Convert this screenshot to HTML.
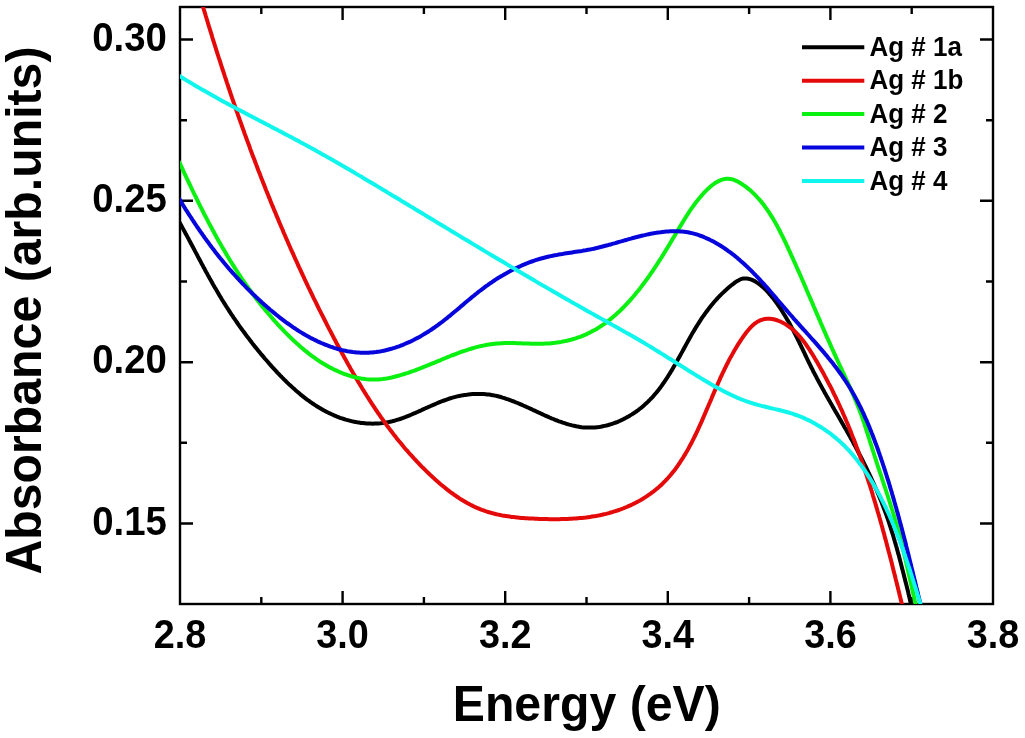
<!DOCTYPE html>
<html><head><meta charset="utf-8"><style>
html,body{margin:0;padding:0;background:#fff;}
svg{display:block;}
text{font-family:'Liberation Sans', Arial, sans-serif;font-weight:bold;fill:#000;}
</style></head><body>
<svg width="1025" height="738" viewBox="0 0 1025 738">
<rect width="1025" height="738" fill="#fff"/>
<rect x="180" y="7" width="813" height="597" fill="none" stroke="#000" stroke-width="2.4"/>
<path d="M261.3,604 v-7 M261.3,7 v7 M342.6,604 v-13 M342.6,7 v13 M423.9,604 v-7 M423.9,7 v7 M505.2,604 v-13 M505.2,7 v13 M586.5,604 v-7 M586.5,7 v7 M667.8,604 v-13 M667.8,7 v13 M749.1,604 v-7 M749.1,7 v7 M830.4,604 v-13 M830.4,7 v13 M911.7,604 v-7 M911.7,7 v7 M180,523.5 h13 M993,523.5 h-13 M180,442.8 h7 M993,442.8 h-7 M180,362.2 h13 M993,362.2 h-13 M180,281.5 h7 M993,281.5 h-7 M180,200.8 h13 M993,200.8 h-13 M180,120.2 h7 M993,120.2 h-7 M180,39.5 h13 M993,39.5 h-13" stroke="#000" stroke-width="2.4" fill="none"/>
<clipPath id="c"><rect x="180" y="7" width="813" height="597"/></clipPath>
<g clip-path="url(#c)" fill="none" stroke-width="4.00" stroke-linejoin="round" stroke-linecap="round">
<path stroke="#000000" d="M179.4,222.2 L180.4,224.0 L181.4,225.8 L182.4,227.6 L183.4,229.4 L184.4,231.2 L185.3,233.0 L186.3,234.8 L187.3,236.6 L188.3,238.4 L189.2,240.2 L190.2,242.0 L191.1,243.8 L192.1,245.5 L193.0,247.3 L194.0,249.1 L194.9,250.9 L195.8,252.6 L196.8,254.4 L197.7,256.2 L198.6,257.9 L199.6,259.7 L200.5,261.4 L201.4,263.2 L202.4,264.9 L203.3,266.7 L204.3,268.4 L205.2,270.2 L206.1,271.9 L207.1,273.6 L208.0,275.4 L209.0,277.1 L209.9,278.8 L210.9,280.5 L211.9,282.3 L212.8,284.0 L213.8,285.7 L214.8,287.4 L215.8,289.1 L216.8,290.8 L217.8,292.5 L218.8,294.2 L219.8,295.9 L220.8,297.6 L221.8,299.3 L222.9,301.0 L223.9,302.6 L225.0,304.3 L226.0,306.0 L227.1,307.7 L228.2,309.3 L229.2,311.0 L230.3,312.6 L231.4,314.3 L232.5,315.9 L233.6,317.6 L234.7,319.2 L235.9,320.9 L237.0,322.5 L238.1,324.1 L239.3,325.8 L240.4,327.4 L241.6,329.0 L242.8,330.6 L244.0,332.2 L245.2,333.8 L246.3,335.5 L247.5,337.0 L248.8,338.6 L250.0,340.2 L251.2,341.8 L252.4,343.4 L253.7,345.0 L254.9,346.6 L256.2,348.1 L257.5,349.7 L258.7,351.2 L260.0,352.8 L261.3,354.4 L262.6,355.9 L263.9,357.4 L265.2,359.0 L266.6,360.5 L267.9,362.0 L269.2,363.6 L270.6,365.1 L271.9,366.6 L273.3,368.1 L274.7,369.6 L276.1,371.1 L277.4,372.6 L278.9,374.1 L280.3,375.6 L281.7,377.0 L283.1,378.5 L284.5,379.9 L286.0,381.3 L287.5,382.8 L288.9,384.2 L290.4,385.5 L291.9,386.9 L293.4,388.3 L294.9,389.6 L296.4,391.0 L298.0,392.3 L299.5,393.6 L301.0,394.9 L302.6,396.1 L304.2,397.4 L305.8,398.6 L307.4,399.8 L309.0,400.9 L310.6,402.1 L312.2,403.2 L313.9,404.3 L315.5,405.4 L317.2,406.5 L318.9,407.5 L320.6,408.5 L322.3,409.5 L324.0,410.5 L325.8,411.4 L327.5,412.3 L329.3,413.2 L331.1,414.0 L332.8,414.8 L334.6,415.6 L336.5,416.4 L338.3,417.1 L340.1,417.8 L342.0,418.4 L343.8,419.0 L345.7,419.6 L347.6,420.1 L349.5,420.6 L351.4,421.1 L353.3,421.6 L355.2,421.9 L357.1,422.3 L359.0,422.6 L361.0,422.9 L362.9,423.1 L364.8,423.3 L366.8,423.5 L368.7,423.6 L370.7,423.6 L372.6,423.7 L374.6,423.6 L376.6,423.6 L378.5,423.4 L380.5,423.3 L382.4,423.1 L384.4,422.8 L386.3,422.5 L388.3,422.1 L390.3,421.7 L392.2,421.3 L394.2,420.8 L396.1,420.2 L398.0,419.6 L400.0,419.0 L401.9,418.3 L403.9,417.6 L405.8,416.9 L407.7,416.1 L409.7,415.3 L411.6,414.5 L413.5,413.7 L415.4,412.9 L417.4,412.0 L419.3,411.1 L421.2,410.3 L423.1,409.4 L425.0,408.5 L426.9,407.7 L428.8,406.8 L430.7,406.0 L432.7,405.1 L434.6,404.3 L436.5,403.5 L438.4,402.7 L440.3,401.9 L442.2,401.2 L444.1,400.5 L446.0,399.8 L447.9,399.1 L449.7,398.5 L451.6,397.9 L453.5,397.4 L455.4,396.9 L457.3,396.4 L459.2,396.0 L461.1,395.6 L463.0,395.3 L464.9,394.9 L466.8,394.7 L468.6,394.4 L470.5,394.2 L472.4,394.1 L474.3,394.0 L476.2,393.9 L478.1,393.9 L480.0,393.9 L481.8,393.9 L483.7,394.0 L485.6,394.2 L487.5,394.4 L489.4,394.6 L491.3,394.9 L493.1,395.2 L495.0,395.6 L496.9,396.0 L498.8,396.5 L500.7,397.0 L502.6,397.6 L504.4,398.1 L506.3,398.8 L508.2,399.4 L510.1,400.1 L512.0,400.8 L513.9,401.5 L515.8,402.3 L517.6,403.0 L519.5,403.8 L521.4,404.6 L523.3,405.5 L525.2,406.3 L527.0,407.2 L528.9,408.0 L530.8,408.9 L532.7,409.8 L534.6,410.6 L536.4,411.5 L538.3,412.4 L540.2,413.2 L542.1,414.1 L544.0,415.0 L545.8,415.8 L547.7,416.6 L549.6,417.5 L551.5,418.3 L553.3,419.0 L555.2,419.8 L557.1,420.5 L559.0,421.3 L560.9,421.9 L562.7,422.6 L564.6,423.2 L566.5,423.8 L568.4,424.4 L570.3,424.9 L572.2,425.4 L574.1,425.8 L576.0,426.2 L577.9,426.6 L579.8,426.9 L581.7,427.2 L583.6,427.4 L585.5,427.5 L587.4,427.6 L589.3,427.6 L591.2,427.6 L593.1,427.5 L595.0,427.4 L597.0,427.2 L598.9,427.0 L600.8,426.7 L602.7,426.3 L604.6,425.9 L606.5,425.5 L608.4,425.0 L610.3,424.4 L612.2,423.8 L614.0,423.2 L615.9,422.5 L617.7,421.8 L619.6,421.0 L621.4,420.2 L623.2,419.3 L625.0,418.4 L626.7,417.4 L628.5,416.5 L630.2,415.4 L631.9,414.4 L633.6,413.3 L635.3,412.1 L637.0,411.0 L638.6,409.8 L640.2,408.5 L641.8,407.3 L643.3,406.0 L644.8,404.6 L646.3,403.3 L647.8,401.9 L649.2,400.5 L650.6,399.0 L652.0,397.6 L653.4,396.1 L654.7,394.5 L656.0,393.0 L657.3,391.4 L658.5,389.9 L659.8,388.3 L661.0,386.6 L662.2,385.0 L663.3,383.3 L664.5,381.7 L665.6,380.0 L666.7,378.3 L667.9,376.6 L668.9,374.8 L670.0,373.1 L671.1,371.3 L672.2,369.6 L673.2,367.8 L674.2,366.0 L675.3,364.2 L676.3,362.4 L677.3,360.6 L678.3,358.8 L679.3,357.0 L680.3,355.2 L681.3,353.4 L682.3,351.6 L683.3,349.8 L684.2,348.0 L685.2,346.2 L686.2,344.4 L687.2,342.6 L688.2,340.8 L689.2,339.0 L690.2,337.2 L691.2,335.4 L692.2,333.6 L693.2,331.9 L694.3,330.1 L695.3,328.4 L696.4,326.7 L697.4,325.0 L698.5,323.3 L699.6,321.6 L700.7,319.9 L701.8,318.2 L702.9,316.6 L704.1,315.0 L705.2,313.4 L706.4,311.8 L707.6,310.2 L708.8,308.6 L710.0,307.1 L711.2,305.5 L712.5,304.0 L713.7,302.5 L715.0,301.0 L716.3,299.6 L717.6,298.1 L719.0,296.7 L720.3,295.3 L721.7,293.9 L723.1,292.6 L724.6,291.2 L726.0,289.9 L727.5,288.6 L729.0,287.3 L730.5,286.0 L732.0,284.8 L733.6,283.6 L735.1,282.4 L736.7,281.3 L738.4,280.4 L740.0,279.5 L741.6,278.9 L743.3,278.5 L744.9,278.4 L746.6,278.4 L748.2,278.7 L749.8,279.1 L751.5,279.7 L753.1,280.4 L754.7,281.1 L756.2,282.1 L757.8,283.1 L759.3,284.2 L760.9,285.4 L762.4,286.7 L763.9,288.0 L765.3,289.4 L766.8,290.9 L768.2,292.5 L769.6,294.1 L771.0,295.7 L772.4,297.4 L773.7,299.1 L775.0,300.9 L776.3,302.6 L777.6,304.4 L778.8,306.2 L780.0,307.9 L781.2,309.7 L782.3,311.5 L783.4,313.3 L784.5,315.0 L785.6,316.8 L786.6,318.6 L787.7,320.3 L788.7,322.1 L789.7,323.8 L790.7,325.6 L791.6,327.4 L792.6,329.1 L793.5,330.9 L794.4,332.7 L795.3,334.4 L796.2,336.2 L797.1,337.9 L797.9,339.7 L798.8,341.4 L799.6,343.2 L800.5,344.9 L801.3,346.7 L802.2,348.4 L803.0,350.2 L803.9,352.0 L804.7,353.7 L805.5,355.5 L806.4,357.2 L807.2,359.0 L808.0,360.7 L808.9,362.5 L809.8,364.2 L810.6,366.0 L811.5,367.7 L812.4,369.4 L813.2,371.2 L814.1,372.9 L815.1,374.7 L816.0,376.4 L816.9,378.2 L817.8,379.9 L818.8,381.7 L819.7,383.4 L820.7,385.2 L821.6,386.9 L822.6,388.7 L823.6,390.4 L824.5,392.2 L825.5,393.9 L826.5,395.7 L827.5,397.4 L828.5,399.2 L829.5,400.9 L830.5,402.7 L831.5,404.4 L832.5,406.2 L833.5,407.9 L834.5,409.7 L835.5,411.4 L836.6,413.2 L837.6,415.0 L838.6,416.7 L839.6,418.5 L840.6,420.2 L841.6,422.0 L842.6,423.8 L843.6,425.5 L844.6,427.3 L845.7,429.0 L846.7,430.8 L847.6,432.6 L848.6,434.3 L849.6,436.1 L850.6,437.9 L851.6,439.6 L852.6,441.4 L853.5,443.2 L854.5,445.0 L855.5,446.7 L856.4,448.5 L857.4,450.3 L858.3,452.1 L859.2,453.9 L860.2,455.6 L861.1,457.4 L862.0,459.2 L862.9,461.0 L863.8,462.8 L864.7,464.6 L865.6,466.4 L866.5,468.2 L867.3,470.0 L868.2,471.8 L869.1,473.6 L869.9,475.4 L870.8,477.2 L871.6,479.0 L872.4,480.8 L873.2,482.6 L874.0,484.4 L874.8,486.2 L875.6,488.0 L876.4,489.8 L877.2,491.7 L878.0,493.5 L878.7,495.3 L879.5,497.1 L880.2,499.0 L881.0,500.8 L881.7,502.6 L882.4,504.5 L883.1,506.3 L883.8,508.2 L884.5,510.0 L885.2,511.9 L885.9,513.7 L886.6,515.6 L887.2,517.4 L887.9,519.3 L888.5,521.1 L889.1,523.0 L889.7,524.9 L890.3,526.7 L890.9,528.6 L891.5,530.5 L892.1,532.4 L892.7,534.2 L893.3,536.1 L893.8,538.0 L894.4,539.9 L894.9,541.8 L895.5,543.7 L896.0,545.6 L896.6,547.5 L897.1,549.4 L897.6,551.3 L898.1,553.2 L898.7,555.1 L899.2,557.1 L899.7,559.0 L900.2,560.9 L900.7,562.8 L901.2,564.8 L901.7,566.7 L902.2,568.7 L902.7,570.6 L903.2,572.5 L903.7,574.5 L904.2,576.5 L904.7,578.4 L905.2,580.4 L905.7,582.4 L906.2,584.3 L906.7,586.3 L907.2,588.3 L907.7,590.3 L908.2,592.3 L908.6,594.2 L909.1,596.2 L909.6,598.2 L910.0,600.2 L910.5,602.3 L910.9,604.3 L911.3,606.3 L911.7,608.3 L912.1,610.3 L912.5,612.4"/>
<path stroke="#e50a0a" d="M199.6,-4.9 L200.2,-3.0 L200.7,-1.1 L201.3,0.8 L201.8,2.7 L202.4,4.7 L203.0,6.6 L203.5,8.5 L204.1,10.4 L204.7,12.3 L205.3,14.2 L205.8,16.1 L206.4,18.0 L207.0,19.9 L207.6,21.8 L208.1,23.7 L208.7,25.6 L209.3,27.5 L209.9,29.4 L210.5,31.3 L211.1,33.2 L211.7,35.1 L212.2,37.0 L212.8,38.9 L213.4,40.8 L214.0,42.7 L214.6,44.6 L215.2,46.5 L215.8,48.4 L216.4,50.3 L217.0,52.2 L217.6,54.1 L218.2,56.0 L218.8,57.9 L219.5,59.8 L220.1,61.7 L220.7,63.6 L221.3,65.5 L221.9,67.4 L222.5,69.3 L223.2,71.2 L223.8,73.1 L224.4,75.0 L225.0,76.9 L225.7,78.8 L226.3,80.7 L226.9,82.6 L227.6,84.5 L228.2,86.4 L228.8,88.3 L229.5,90.2 L230.1,92.0 L230.7,93.9 L231.4,95.8 L232.0,97.7 L232.7,99.6 L233.3,101.5 L234.0,103.4 L234.6,105.3 L235.3,107.2 L235.9,109.1 L236.6,111.0 L237.3,112.8 L237.9,114.7 L238.6,116.6 L239.2,118.5 L239.9,120.4 L240.6,122.3 L241.3,124.1 L241.9,126.0 L242.6,127.9 L243.3,129.8 L244.0,131.7 L244.6,133.6 L245.3,135.4 L246.0,137.3 L246.7,139.2 L247.4,141.1 L248.1,143.0 L248.8,144.8 L249.5,146.7 L250.1,148.6 L250.8,150.5 L251.5,152.3 L252.2,154.2 L252.9,156.1 L253.7,158.0 L254.4,159.8 L255.1,161.7 L255.8,163.6 L256.5,165.4 L257.2,167.3 L257.9,169.2 L258.6,171.0 L259.4,172.9 L260.1,174.8 L260.8,176.6 L261.5,178.5 L262.3,180.4 L263.0,182.2 L263.7,184.1 L264.5,185.9 L265.2,187.8 L265.9,189.7 L266.7,191.5 L267.4,193.4 L268.2,195.2 L268.9,197.1 L269.7,198.9 L270.4,200.8 L271.2,202.7 L271.9,204.5 L272.7,206.4 L273.5,208.2 L274.2,210.1 L275.0,211.9 L275.8,213.8 L276.5,215.6 L277.3,217.4 L278.1,219.3 L278.8,221.1 L279.6,223.0 L280.4,224.8 L281.2,226.7 L282.0,228.5 L282.8,230.3 L283.5,232.2 L284.3,234.0 L285.1,235.8 L285.9,237.7 L286.7,239.5 L287.5,241.3 L288.3,243.2 L289.1,245.0 L289.9,246.8 L290.7,248.7 L291.5,250.5 L292.4,252.3 L293.2,254.1 L294.0,256.0 L294.8,257.8 L295.6,259.6 L296.5,261.4 L297.3,263.2 L298.1,265.1 L298.9,266.9 L299.8,268.7 L300.6,270.5 L301.5,272.3 L302.3,274.1 L303.1,275.9 L304.0,277.7 L304.8,279.6 L305.7,281.4 L306.5,283.2 L307.4,285.0 L308.2,286.8 L309.1,288.6 L310.0,290.4 L310.8,292.2 L311.7,294.0 L312.6,295.8 L313.4,297.6 L314.3,299.4 L315.2,301.1 L316.1,302.9 L316.9,304.7 L317.8,306.5 L318.7,308.3 L319.6,310.1 L320.5,311.9 L321.4,313.7 L322.3,315.4 L323.2,317.2 L324.1,319.0 L325.0,320.8 L325.9,322.5 L326.8,324.3 L327.7,326.1 L328.6,327.9 L329.5,329.6 L330.5,331.4 L331.4,333.2 L332.3,334.9 L333.2,336.7 L334.1,338.5 L335.1,340.2 L336.0,342.0 L336.9,343.7 L337.9,345.5 L338.8,347.3 L339.8,349.0 L340.7,350.8 L341.7,352.5 L342.6,354.3 L343.6,356.0 L344.5,357.8 L345.5,359.5 L346.5,361.2 L347.4,363.0 L348.4,364.7 L349.4,366.4 L350.3,368.2 L351.3,369.9 L352.3,371.6 L353.3,373.4 L354.3,375.1 L355.3,376.8 L356.3,378.5 L357.3,380.2 L358.3,381.9 L359.3,383.6 L360.4,385.4 L361.4,387.1 L362.4,388.8 L363.5,390.4 L364.5,392.1 L365.6,393.8 L366.6,395.5 L367.7,397.2 L368.8,398.9 L369.8,400.5 L370.9,402.2 L372.0,403.9 L373.1,405.5 L374.2,407.2 L375.3,408.9 L376.4,410.5 L377.5,412.1 L378.6,413.8 L379.8,415.4 L380.9,417.1 L382.1,418.7 L383.2,420.3 L384.4,421.9 L385.5,423.5 L386.7,425.2 L387.9,426.8 L389.1,428.4 L390.3,430.0 L391.5,431.5 L392.7,433.1 L393.9,434.7 L395.2,436.3 L396.4,437.9 L397.6,439.4 L398.9,441.0 L400.2,442.5 L401.5,444.1 L402.7,445.6 L404.0,447.2 L405.3,448.7 L406.6,450.2 L408.0,451.7 L409.3,453.2 L410.6,454.7 L412.0,456.2 L413.4,457.7 L414.7,459.2 L416.1,460.7 L417.5,462.2 L418.9,463.6 L420.3,465.1 L421.7,466.6 L423.2,468.0 L424.6,469.4 L426.1,470.9 L427.5,472.3 L429.0,473.7 L430.5,475.1 L432.0,476.5 L433.5,477.9 L435.0,479.3 L436.6,480.7 L438.1,482.0 L439.7,483.4 L441.2,484.7 L442.8,486.0 L444.4,487.3 L446.0,488.6 L447.6,489.9 L449.2,491.1 L450.8,492.3 L452.5,493.5 L454.1,494.7 L455.8,495.8 L457.5,497.0 L459.1,498.1 L460.8,499.2 L462.5,500.2 L464.2,501.2 L465.9,502.2 L467.6,503.2 L469.4,504.1 L471.1,505.1 L472.9,505.9 L474.6,506.8 L476.4,507.6 L478.2,508.3 L480.0,509.1 L481.8,509.8 L483.6,510.4 L485.4,511.1 L487.2,511.7 L489.0,512.2 L490.8,512.8 L492.7,513.3 L494.5,513.7 L496.4,514.2 L498.3,514.6 L500.1,515.0 L502.0,515.4 L503.9,515.7 L505.8,516.0 L507.7,516.3 L509.6,516.6 L511.5,516.9 L513.5,517.1 L515.4,517.3 L517.3,517.5 L519.3,517.7 L521.2,517.9 L523.2,518.0 L525.2,518.2 L527.1,518.3 L529.1,518.4 L531.1,518.5 L533.1,518.6 L535.1,518.7 L537.1,518.8 L539.1,518.9 L541.1,519.0 L543.2,519.0 L545.2,519.1 L547.2,519.1 L549.3,519.2 L551.3,519.2 L553.3,519.2 L555.4,519.2 L557.4,519.2 L559.5,519.2 L561.5,519.1 L563.6,519.1 L565.6,519.0 L567.7,518.9 L569.7,518.8 L571.8,518.7 L573.8,518.6 L575.8,518.5 L577.9,518.3 L579.9,518.1 L581.9,517.9 L584.0,517.7 L586.0,517.5 L588.0,517.2 L590.0,516.9 L592.0,516.6 L594.0,516.3 L596.0,516.0 L598.0,515.6 L600.0,515.2 L602.0,514.8 L604.0,514.3 L605.9,513.9 L607.9,513.4 L609.8,512.8 L611.7,512.3 L613.6,511.7 L615.5,511.1 L617.4,510.5 L619.3,509.8 L621.2,509.2 L623.0,508.5 L624.9,507.7 L626.7,507.0 L628.5,506.2 L630.3,505.4 L632.1,504.5 L633.9,503.7 L635.6,502.8 L637.4,501.9 L639.1,500.9 L640.8,500.0 L642.5,499.0 L644.2,497.9 L645.8,496.9 L647.4,495.8 L649.0,494.7 L650.6,493.6 L652.2,492.4 L653.8,491.3 L655.3,490.0 L656.8,488.8 L658.3,487.6 L659.7,486.3 L661.2,485.0 L662.6,483.6 L664.0,482.2 L665.3,480.9 L666.7,479.4 L668.0,478.0 L669.3,476.5 L670.6,475.0 L671.8,473.5 L673.0,472.0 L674.3,470.4 L675.5,468.9 L676.6,467.3 L677.8,465.7 L678.9,464.0 L680.0,462.4 L681.1,460.7 L682.2,459.0 L683.3,457.3 L684.3,455.6 L685.4,453.9 L686.4,452.1 L687.4,450.4 L688.4,448.6 L689.3,446.8 L690.3,445.1 L691.3,443.3 L692.2,441.4 L693.1,439.6 L694.0,437.8 L694.9,436.0 L695.8,434.1 L696.7,432.3 L697.6,430.4 L698.4,428.6 L699.3,426.7 L700.1,424.8 L701.0,423.0 L701.8,421.1 L702.6,419.2 L703.4,417.4 L704.2,415.5 L705.0,413.6 L705.8,411.8 L706.6,409.9 L707.4,408.0 L708.2,406.2 L709.0,404.3 L709.8,402.5 L710.6,400.6 L711.4,398.8 L712.1,396.9 L712.9,395.1 L713.7,393.2 L714.5,391.4 L715.3,389.6 L716.1,387.7 L716.9,385.9 L717.7,384.1 L718.5,382.3 L719.3,380.5 L720.1,378.6 L720.9,376.8 L721.8,375.0 L722.6,373.2 L723.5,371.4 L724.3,369.6 L725.2,367.8 L726.1,366.0 L727.0,364.2 L727.9,362.5 L728.8,360.7 L729.7,358.9 L730.7,357.1 L731.7,355.4 L732.7,353.6 L733.7,351.8 L734.7,350.1 L735.7,348.3 L736.8,346.6 L737.8,344.8 L738.9,343.1 L740.1,341.3 L741.2,339.6 L742.4,337.9 L743.6,336.1 L744.8,334.5 L746.0,332.8 L747.3,331.2 L748.6,329.7 L749.9,328.2 L751.2,326.8 L752.6,325.4 L754.0,324.2 L755.5,323.1 L757.0,322.0 L758.5,321.2 L760.1,320.4 L761.7,319.8 L763.3,319.3 L765.0,319.0 L766.7,318.8 L768.4,318.7 L770.1,318.8 L771.9,319.0 L773.6,319.3 L775.4,319.8 L777.2,320.3 L778.9,321.0 L780.7,321.7 L782.4,322.5 L784.1,323.4 L785.8,324.4 L787.4,325.5 L789.0,326.6 L790.6,327.8 L792.1,329.0 L793.6,330.3 L795.1,331.7 L796.5,333.1 L797.9,334.6 L799.3,336.1 L800.6,337.6 L801.9,339.2 L803.2,340.8 L804.5,342.4 L805.7,344.1 L806.9,345.8 L808.1,347.6 L809.3,349.3 L810.4,351.1 L811.5,352.9 L812.7,354.7 L813.8,356.5 L814.8,358.3 L815.9,360.1 L817.0,361.9 L818.0,363.7 L819.0,365.5 L820.1,367.4 L821.1,369.2 L822.1,371.0 L823.1,372.8 L824.1,374.6 L825.0,376.4 L826.0,378.2 L826.9,380.0 L827.9,381.8 L828.8,383.6 L829.7,385.3 L830.7,387.1 L831.6,388.9 L832.5,390.7 L833.3,392.5 L834.2,394.3 L835.1,396.1 L836.0,397.9 L836.8,399.7 L837.6,401.5 L838.5,403.2 L839.3,405.0 L840.1,406.8 L840.9,408.6 L841.8,410.4 L842.6,412.2 L843.3,414.0 L844.1,415.8 L844.9,417.6 L845.7,419.4 L846.4,421.2 L847.2,423.0 L848.0,424.8 L848.7,426.6 L849.4,428.4 L850.2,430.2 L850.9,432.0 L851.6,433.9 L852.3,435.7 L853.0,437.5 L853.8,439.3 L854.5,441.2 L855.2,443.0 L855.8,444.8 L856.5,446.7 L857.2,448.5 L857.9,450.4 L858.6,452.2 L859.2,454.1 L859.9,455.9 L860.6,457.8 L861.2,459.7 L861.9,461.6 L862.5,463.4 L863.2,465.3 L863.8,467.2 L864.5,469.1 L865.1,471.0 L865.7,472.9 L866.4,474.8 L867.0,476.7 L867.6,478.6 L868.2,480.5 L868.8,482.4 L869.5,484.3 L870.1,486.2 L870.7,488.1 L871.3,490.0 L871.9,491.9 L872.5,493.9 L873.0,495.8 L873.6,497.7 L874.2,499.6 L874.8,501.6 L875.4,503.5 L875.9,505.4 L876.5,507.4 L877.1,509.3 L877.6,511.2 L878.2,513.2 L878.8,515.1 L879.3,517.0 L879.9,519.0 L880.4,520.9 L881.0,522.9 L881.5,524.8 L882.1,526.8 L882.6,528.7 L883.1,530.6 L883.7,532.6 L884.2,534.5 L884.7,536.5 L885.2,538.4 L885.8,540.4 L886.3,542.3 L886.8,544.3 L887.3,546.2 L887.8,548.2 L888.3,550.1 L888.8,552.0 L889.4,554.0 L889.9,555.9 L890.4,557.9 L890.9,559.8 L891.4,561.8 L891.9,563.7 L892.3,565.6 L892.8,567.6 L893.3,569.5 L893.8,571.5 L894.3,573.4 L894.8,575.3 L895.3,577.3 L895.7,579.2 L896.2,581.1 L896.7,583.0 L897.2,585.0 L897.7,586.9 L898.1,588.8 L898.6,590.7 L899.1,592.6 L899.5,594.6 L900.0,596.5 L900.5,598.4 L900.9,600.3 L901.4,602.2 L901.9,604.1 L902.3,606.0 L902.8,607.9 L903.2,609.8 L903.7,611.7"/>
<path stroke="#0af010" d="M179.3,162.3 L180.2,164.1 L181.0,165.9 L181.8,167.7 L182.7,169.5 L183.5,171.4 L184.4,173.2 L185.2,175.0 L186.1,176.8 L186.9,178.6 L187.8,180.4 L188.6,182.2 L189.5,184.0 L190.4,185.8 L191.2,187.6 L192.1,189.5 L193.0,191.3 L193.8,193.1 L194.7,194.9 L195.6,196.7 L196.5,198.5 L197.3,200.3 L198.2,202.0 L199.1,203.8 L200.0,205.6 L200.9,207.4 L201.8,209.2 L202.7,211.0 L203.6,212.8 L204.5,214.6 L205.4,216.3 L206.4,218.1 L207.3,219.9 L208.2,221.7 L209.1,223.4 L210.1,225.2 L211.0,226.9 L212.0,228.7 L212.9,230.5 L213.9,232.2 L214.8,234.0 L215.8,235.7 L216.7,237.5 L217.7,239.2 L218.7,241.0 L219.7,242.7 L220.7,244.4 L221.7,246.2 L222.7,247.9 L223.7,249.6 L224.7,251.3 L225.7,253.0 L226.7,254.7 L227.7,256.5 L228.8,258.2 L229.8,259.9 L230.8,261.6 L231.9,263.2 L232.9,264.9 L234.0,266.6 L235.1,268.3 L236.2,270.0 L237.2,271.6 L238.3,273.3 L239.4,275.0 L240.5,276.6 L241.6,278.3 L242.7,279.9 L243.9,281.6 L245.0,283.2 L246.1,284.8 L247.3,286.5 L248.4,288.1 L249.6,289.7 L250.8,291.3 L251.9,292.9 L253.1,294.5 L254.3,296.1 L255.5,297.7 L256.7,299.3 L257.9,300.9 L259.2,302.4 L260.4,304.0 L261.6,305.6 L262.9,307.1 L264.2,308.7 L265.4,310.2 L266.7,311.8 L268.0,313.3 L269.3,314.8 L270.6,316.3 L271.9,317.8 L273.2,319.4 L274.5,320.9 L275.9,322.3 L277.2,323.8 L278.6,325.3 L280.0,326.8 L281.3,328.2 L282.7,329.7 L284.1,331.2 L285.5,332.6 L287.0,334.0 L288.4,335.5 L289.8,336.9 L291.3,338.3 L292.7,339.7 L294.2,341.1 L295.7,342.4 L297.2,343.8 L298.7,345.1 L300.2,346.5 L301.7,347.8 L303.3,349.1 L304.8,350.4 L306.4,351.6 L308.0,352.9 L309.5,354.1 L311.1,355.3 L312.7,356.5 L314.4,357.7 L316.0,358.8 L317.6,360.0 L319.3,361.1 L321.0,362.2 L322.7,363.2 L324.4,364.2 L326.1,365.2 L327.8,366.2 L329.5,367.2 L331.3,368.1 L333.0,369.0 L334.8,369.9 L336.6,370.7 L338.4,371.5 L340.2,372.3 L342.0,373.0 L343.9,373.8 L345.7,374.4 L347.6,375.1 L349.5,375.7 L351.4,376.3 L353.3,376.8 L355.2,377.3 L357.1,377.7 L359.1,378.1 L361.0,378.5 L363.0,378.8 L364.9,379.1 L366.9,379.3 L368.8,379.4 L370.8,379.6 L372.8,379.6 L374.7,379.6 L376.7,379.6 L378.7,379.5 L380.7,379.3 L382.7,379.1 L384.6,378.8 L386.6,378.5 L388.6,378.1 L390.6,377.7 L392.5,377.3 L394.5,376.8 L396.4,376.3 L398.4,375.8 L400.3,375.2 L402.3,374.6 L404.2,374.0 L406.1,373.4 L408.1,372.8 L410.0,372.1 L411.9,371.4 L413.8,370.8 L415.7,370.1 L417.6,369.3 L419.5,368.6 L421.4,367.9 L423.2,367.1 L425.1,366.4 L427.0,365.6 L428.9,364.9 L430.7,364.1 L432.6,363.3 L434.5,362.6 L436.3,361.8 L438.2,361.0 L440.1,360.3 L441.9,359.5 L443.8,358.7 L445.6,358.0 L447.5,357.2 L449.3,356.5 L451.2,355.7 L453.1,355.0 L454.9,354.3 L456.8,353.6 L458.7,352.9 L460.5,352.2 L462.4,351.5 L464.3,350.9 L466.2,350.3 L468.0,349.7 L469.9,349.1 L471.8,348.5 L473.7,347.9 L475.6,347.4 L477.5,346.9 L479.4,346.4 L481.3,346.0 L483.2,345.6 L485.1,345.2 L487.1,344.8 L489.0,344.5 L490.9,344.2 L492.9,343.9 L494.8,343.7 L496.8,343.5 L498.8,343.4 L500.7,343.2 L502.7,343.2 L504.7,343.1 L506.7,343.1 L508.7,343.1 L510.7,343.1 L512.7,343.1 L514.7,343.1 L516.8,343.2 L518.8,343.3 L520.8,343.3 L522.8,343.4 L524.9,343.5 L526.9,343.6 L528.9,343.6 L531.0,343.7 L533.0,343.8 L535.0,343.8 L537.0,343.8 L539.1,343.8 L541.1,343.8 L543.1,343.7 L545.1,343.6 L547.1,343.5 L549.1,343.4 L551.1,343.2 L553.1,343.0 L555.1,342.8 L557.1,342.5 L559.0,342.2 L561.0,341.9 L562.9,341.5 L564.9,341.1 L566.8,340.7 L568.8,340.2 L570.7,339.8 L572.6,339.2 L574.5,338.7 L576.3,338.1 L578.2,337.4 L580.1,336.8 L581.9,336.1 L583.7,335.3 L585.5,334.6 L587.3,333.8 L589.1,332.9 L590.9,332.0 L592.6,331.1 L594.3,330.2 L596.1,329.2 L597.8,328.2 L599.4,327.1 L601.1,326.0 L602.8,324.9 L604.4,323.8 L606.0,322.6 L607.6,321.4 L609.2,320.2 L610.8,318.9 L612.3,317.6 L613.9,316.3 L615.4,315.0 L616.9,313.6 L618.4,312.3 L619.9,310.9 L621.3,309.5 L622.8,308.0 L624.2,306.6 L625.6,305.1 L627.0,303.6 L628.4,302.1 L629.8,300.6 L631.1,299.1 L632.5,297.5 L633.8,296.0 L635.1,294.4 L636.4,292.8 L637.7,291.3 L639.0,289.7 L640.2,288.1 L641.5,286.4 L642.7,284.8 L643.9,283.2 L645.1,281.6 L646.3,280.0 L647.5,278.3 L648.7,276.7 L649.8,275.1 L650.9,273.4 L652.1,271.8 L653.2,270.2 L654.3,268.5 L655.3,266.9 L656.4,265.3 L657.5,263.7 L658.5,262.0 L659.5,260.4 L660.6,258.8 L661.6,257.2 L662.6,255.6 L663.6,254.0 L664.6,252.4 L665.6,250.8 L666.6,249.1 L667.6,247.5 L668.5,245.9 L669.5,244.2 L670.5,242.6 L671.5,240.9 L672.5,239.3 L673.5,237.6 L674.5,235.9 L675.5,234.2 L676.5,232.5 L677.5,230.8 L678.6,229.1 L679.6,227.3 L680.7,225.6 L681.7,223.8 L682.8,222.1 L683.9,220.3 L685.0,218.5 L686.1,216.7 L687.2,215.0 L688.4,213.2 L689.5,211.4 L690.7,209.7 L691.9,207.9 L693.2,206.2 L694.4,204.5 L695.7,202.7 L697.0,201.1 L698.3,199.4 L699.7,197.7 L701.1,196.1 L702.5,194.5 L703.9,192.9 L705.4,191.4 L706.9,189.9 L708.4,188.4 L710.0,187.0 L711.5,185.7 L713.1,184.5 L714.7,183.3 L716.4,182.3 L718.0,181.4 L719.7,180.6 L721.4,179.9 L723.0,179.4 L724.7,179.0 L726.5,178.8 L728.2,178.8 L729.9,178.9 L731.6,179.2 L733.3,179.7 L735.1,180.4 L736.8,181.1 L738.5,182.0 L740.1,182.9 L741.8,184.0 L743.4,185.1 L745.0,186.2 L746.6,187.4 L748.1,188.6 L749.6,189.8 L751.1,191.1 L752.5,192.4 L753.9,193.8 L755.3,195.1 L756.6,196.5 L757.9,198.0 L759.2,199.4 L760.5,200.9 L761.8,202.4 L763.0,203.9 L764.2,205.5 L765.3,207.1 L766.5,208.7 L767.6,210.3 L768.7,211.9 L769.8,213.6 L770.9,215.3 L771.9,216.9 L773.0,218.6 L774.0,220.4 L775.0,222.1 L776.0,223.9 L777.0,225.6 L777.9,227.4 L778.9,229.2 L779.8,231.0 L780.7,232.8 L781.6,234.6 L782.5,236.4 L783.4,238.2 L784.3,240.1 L785.2,241.9 L786.1,243.7 L786.9,245.6 L787.8,247.4 L788.6,249.3 L789.5,251.1 L790.3,252.9 L791.1,254.8 L792.0,256.6 L792.8,258.5 L793.6,260.3 L794.5,262.1 L795.3,264.0 L796.1,265.8 L796.9,267.7 L797.7,269.5 L798.6,271.3 L799.4,273.2 L800.2,275.0 L801.0,276.8 L801.8,278.7 L802.6,280.5 L803.4,282.3 L804.2,284.2 L805.0,286.0 L805.8,287.9 L806.5,289.7 L807.3,291.5 L808.1,293.4 L808.9,295.2 L809.7,297.0 L810.5,298.9 L811.3,300.7 L812.1,302.5 L812.9,304.4 L813.6,306.2 L814.4,308.0 L815.2,309.9 L816.0,311.7 L816.8,313.6 L817.6,315.4 L818.4,317.2 L819.2,319.1 L820.0,320.9 L820.7,322.7 L821.5,324.6 L822.3,326.4 L823.1,328.2 L823.9,330.1 L824.7,331.9 L825.5,333.7 L826.3,335.6 L827.1,337.4 L828.0,339.3 L828.8,341.1 L829.6,342.9 L830.4,344.8 L831.2,346.6 L832.0,348.4 L832.9,350.3 L833.7,352.1 L834.5,354.0 L835.4,355.8 L836.2,357.6 L837.1,359.5 L837.9,361.3 L838.8,363.2 L839.6,365.0 L840.5,366.9 L841.3,368.7 L842.2,370.5 L843.0,372.4 L843.9,374.2 L844.8,376.1 L845.6,377.9 L846.5,379.8 L847.3,381.6 L848.2,383.5 L849.0,385.3 L849.8,387.1 L850.7,389.0 L851.5,390.8 L852.3,392.7 L853.1,394.5 L853.9,396.4 L854.7,398.2 L855.5,400.1 L856.2,401.9 L857.0,403.8 L857.7,405.7 L858.5,407.5 L859.2,409.4 L859.9,411.2 L860.6,413.1 L861.3,414.9 L861.9,416.8 L862.6,418.6 L863.2,420.5 L863.9,422.4 L864.5,424.2 L865.1,426.1 L865.7,427.9 L866.3,429.8 L866.9,431.7 L867.5,433.5 L868.1,435.4 L868.7,437.3 L869.3,439.1 L869.8,441.0 L870.4,442.9 L871.0,444.7 L871.6,446.6 L872.2,448.5 L872.8,450.4 L873.4,452.2 L874.0,454.1 L874.6,456.0 L875.2,457.9 L875.8,459.7 L876.4,461.6 L877.0,463.5 L877.6,465.4 L878.2,467.3 L878.9,469.2 L879.5,471.0 L880.1,472.9 L880.8,474.8 L881.4,476.7 L882.0,478.6 L882.6,480.5 L883.3,482.4 L883.9,484.3 L884.5,486.2 L885.2,488.1 L885.8,490.0 L886.4,491.9 L887.0,493.7 L887.7,495.6 L888.3,497.6 L888.9,499.5 L889.5,501.4 L890.1,503.3 L890.7,505.2 L891.3,507.1 L891.9,509.0 L892.5,510.9 L893.1,512.8 L893.6,514.7 L894.2,516.6 L894.8,518.6 L895.3,520.5 L895.9,522.4 L896.4,524.3 L897.0,526.2 L897.5,528.2 L898.0,530.1 L898.6,532.0 L899.1,533.9 L899.6,535.9 L900.1,537.8 L900.6,539.7 L901.1,541.7 L901.6,543.6 L902.1,545.5 L902.5,547.5 L903.0,549.4 L903.5,551.4 L904.0,553.3 L904.4,555.3 L904.9,557.2 L905.4,559.2 L905.8,561.1 L906.3,563.1 L906.7,565.0 L907.2,567.0 L907.6,568.9 L908.1,570.9 L908.5,572.9 L909.0,574.8 L909.4,576.8 L909.9,578.8 L910.3,580.7 L910.8,582.7 L911.2,584.7 L911.7,586.6 L912.1,588.6 L912.5,590.6 L913.0,592.6 L913.4,594.6 L913.9,596.5 L914.4,598.5 L914.8,600.5 L915.3,602.5 L915.7,604.5 L916.2,606.5 L916.7,608.5 L917.1,610.5 L917.6,612.5"/>
<path stroke="#0505dc" d="M179.2,198.8 L180.3,200.6 L181.4,202.5 L182.5,204.2 L183.6,206.0 L184.7,207.8 L185.8,209.6 L187.0,211.3 L188.1,213.1 L189.2,214.8 L190.3,216.5 L191.4,218.2 L192.5,219.9 L193.7,221.6 L194.8,223.3 L195.9,225.0 L197.0,226.7 L198.2,228.3 L199.3,230.0 L200.4,231.6 L201.6,233.2 L202.7,234.9 L203.9,236.5 L205.0,238.1 L206.2,239.7 L207.3,241.3 L208.5,242.8 L209.6,244.4 L210.8,246.0 L212.0,247.6 L213.1,249.1 L214.3,250.6 L215.5,252.2 L216.7,253.7 L217.9,255.2 L219.1,256.8 L220.3,258.3 L221.6,259.8 L222.8,261.3 L224.0,262.8 L225.3,264.3 L226.5,265.7 L227.8,267.2 L229.0,268.7 L230.3,270.2 L231.6,271.6 L232.9,273.1 L234.2,274.5 L235.5,276.0 L236.8,277.4 L238.1,278.8 L239.4,280.3 L240.8,281.7 L242.1,283.1 L243.5,284.5 L244.9,286.0 L246.2,287.4 L247.6,288.8 L249.0,290.2 L250.5,291.6 L251.9,293.0 L253.3,294.4 L254.8,295.8 L256.2,297.1 L257.7,298.5 L259.2,299.9 L260.7,301.3 L262.2,302.7 L263.7,304.0 L265.3,305.4 L266.8,306.8 L268.3,308.1 L269.9,309.5 L271.5,310.8 L273.1,312.1 L274.7,313.4 L276.3,314.7 L277.9,316.0 L279.5,317.3 L281.2,318.6 L282.8,319.8 L284.5,321.1 L286.1,322.3 L287.8,323.5 L289.5,324.7 L291.2,325.9 L292.9,327.1 L294.6,328.2 L296.3,329.4 L298.0,330.5 L299.8,331.6 L301.5,332.6 L303.3,333.7 L305.0,334.7 L306.8,335.7 L308.6,336.7 L310.3,337.7 L312.1,338.6 L313.9,339.5 L315.7,340.4 L317.5,341.3 L319.3,342.1 L321.2,343.0 L323.0,343.7 L324.8,344.5 L326.7,345.2 L328.5,345.9 L330.4,346.6 L332.2,347.2 L334.1,347.9 L335.9,348.4 L337.8,349.0 L339.7,349.5 L341.6,350.0 L343.4,350.4 L345.3,350.8 L347.2,351.2 L349.1,351.5 L351.0,351.8 L352.9,352.1 L354.8,352.3 L356.7,352.5 L358.7,352.6 L360.6,352.7 L362.5,352.8 L364.4,352.8 L366.3,352.8 L368.3,352.8 L370.2,352.6 L372.1,352.5 L374.1,352.3 L376.0,352.1 L377.9,351.8 L379.9,351.5 L381.8,351.1 L383.7,350.7 L385.7,350.3 L387.6,349.8 L389.5,349.3 L391.4,348.8 L393.4,348.2 L395.3,347.6 L397.2,346.9 L399.1,346.3 L401.0,345.5 L402.9,344.8 L404.7,344.0 L406.6,343.2 L408.5,342.4 L410.3,341.6 L412.2,340.7 L414.0,339.8 L415.8,338.8 L417.6,337.9 L419.4,336.9 L421.2,335.9 L422.9,334.9 L424.7,333.8 L426.4,332.8 L428.1,331.7 L429.8,330.6 L431.5,329.5 L433.2,328.3 L434.9,327.2 L436.5,326.0 L438.1,324.9 L439.7,323.7 L441.3,322.5 L442.9,321.3 L444.5,320.0 L446.0,318.8 L447.6,317.6 L449.1,316.3 L450.7,315.1 L452.2,313.8 L453.7,312.5 L455.2,311.3 L456.8,310.0 L458.3,308.7 L459.8,307.4 L461.3,306.1 L462.8,304.9 L464.3,303.6 L465.8,302.3 L467.4,301.0 L468.9,299.8 L470.4,298.5 L471.9,297.2 L473.5,296.0 L475.0,294.7 L476.6,293.5 L478.1,292.2 L479.7,291.0 L481.3,289.8 L482.9,288.6 L484.5,287.4 L486.1,286.2 L487.7,285.1 L489.3,283.9 L491.0,282.8 L492.7,281.6 L494.3,280.5 L496.0,279.4 L497.7,278.3 L499.4,277.3 L501.1,276.2 L502.9,275.2 L504.6,274.2 L506.4,273.2 L508.1,272.2 L509.9,271.3 L511.7,270.3 L513.5,269.4 L515.3,268.5 L517.1,267.7 L518.9,266.8 L520.7,266.0 L522.5,265.2 L524.4,264.4 L526.2,263.6 L528.1,262.9 L529.9,262.2 L531.8,261.5 L533.7,260.8 L535.6,260.2 L537.4,259.6 L539.3,259.0 L541.2,258.5 L543.1,258.0 L545.0,257.5 L547.0,257.0 L548.9,256.5 L550.8,256.1 L552.7,255.7 L554.6,255.3 L556.6,255.0 L558.5,254.6 L560.5,254.3 L562.4,254.0 L564.3,253.6 L566.3,253.3 L568.3,253.0 L570.2,252.7 L572.2,252.4 L574.1,252.1 L576.1,251.8 L578.0,251.5 L580.0,251.2 L582.0,250.9 L583.9,250.5 L585.9,250.2 L587.8,249.8 L589.8,249.5 L591.8,249.1 L593.7,248.7 L595.7,248.2 L597.7,247.8 L599.6,247.3 L601.6,246.8 L603.5,246.3 L605.5,245.8 L607.4,245.3 L609.4,244.7 L611.4,244.2 L613.3,243.6 L615.3,243.1 L617.2,242.5 L619.2,241.9 L621.1,241.4 L623.1,240.8 L625.1,240.2 L627.0,239.7 L629.0,239.1 L630.9,238.6 L632.9,238.0 L634.9,237.5 L636.8,237.0 L638.8,236.5 L640.8,236.0 L642.7,235.5 L644.7,235.1 L646.7,234.6 L648.6,234.2 L650.6,233.8 L652.6,233.4 L654.5,233.1 L656.5,232.7 L658.5,232.4 L660.5,232.2 L662.5,231.9 L664.4,231.7 L666.4,231.5 L668.4,231.4 L670.4,231.3 L672.3,231.2 L674.3,231.2 L676.3,231.2 L678.2,231.3 L680.2,231.4 L682.1,231.6 L684.1,231.8 L686.0,232.0 L687.9,232.3 L689.9,232.7 L691.8,233.1 L693.7,233.6 L695.6,234.1 L697.5,234.7 L699.3,235.3 L701.2,236.0 L703.0,236.7 L704.8,237.5 L706.7,238.3 L708.5,239.1 L710.2,240.0 L712.0,240.8 L713.8,241.8 L715.5,242.7 L717.2,243.7 L718.9,244.7 L720.6,245.8 L722.2,246.8 L723.9,247.9 L725.5,249.0 L727.1,250.1 L728.7,251.3 L730.3,252.4 L731.9,253.6 L733.5,254.8 L735.0,256.1 L736.5,257.3 L738.0,258.6 L739.6,259.9 L741.0,261.2 L742.5,262.5 L744.0,263.8 L745.5,265.2 L746.9,266.6 L748.4,267.9 L749.8,269.3 L751.2,270.7 L752.6,272.2 L754.0,273.6 L755.4,275.0 L756.8,276.5 L758.2,277.9 L759.6,279.4 L760.9,280.9 L762.3,282.4 L763.7,283.9 L765.0,285.4 L766.4,286.9 L767.7,288.4 L769.0,289.9 L770.4,291.5 L771.7,293.0 L773.0,294.5 L774.4,296.1 L775.7,297.6 L777.0,299.2 L778.3,300.7 L779.6,302.2 L781.0,303.8 L782.3,305.3 L783.6,306.9 L784.9,308.4 L786.3,309.9 L787.6,311.5 L788.9,313.0 L790.2,314.5 L791.6,316.0 L792.9,317.6 L794.2,319.1 L795.6,320.6 L796.9,322.1 L798.3,323.6 L799.6,325.1 L800.9,326.6 L802.3,328.1 L803.6,329.6 L805.0,331.0 L806.3,332.5 L807.6,334.0 L809.0,335.5 L810.3,337.0 L811.6,338.5 L812.9,340.0 L814.3,341.4 L815.6,342.9 L816.9,344.4 L818.2,345.9 L819.5,347.4 L820.8,348.9 L822.1,350.4 L823.4,351.9 L824.7,353.4 L825.9,354.9 L827.2,356.4 L828.4,358.0 L829.7,359.5 L830.9,361.0 L832.2,362.6 L833.4,364.1 L834.6,365.7 L835.8,367.2 L837.0,368.8 L838.1,370.4 L839.3,372.0 L840.4,373.5 L841.6,375.2 L842.7,376.8 L843.8,378.4 L844.9,380.0 L846.0,381.7 L847.1,383.3 L848.1,385.0 L849.2,386.7 L850.2,388.3 L851.2,390.0 L852.2,391.7 L853.2,393.5 L854.2,395.2 L855.1,396.9 L856.1,398.7 L857.0,400.4 L857.9,402.2 L858.8,404.0 L859.7,405.7 L860.6,407.5 L861.5,409.3 L862.3,411.1 L863.2,412.9 L864.0,414.8 L864.8,416.6 L865.6,418.4 L866.5,420.2 L867.3,422.1 L868.0,423.9 L868.8,425.8 L869.6,427.6 L870.3,429.5 L871.1,431.4 L871.8,433.2 L872.6,435.1 L873.3,437.0 L874.0,438.9 L874.7,440.8 L875.4,442.7 L876.1,444.5 L876.8,446.4 L877.5,448.3 L878.2,450.2 L878.8,452.1 L879.5,454.0 L880.1,455.9 L880.8,457.8 L881.4,459.7 L882.1,461.6 L882.7,463.5 L883.3,465.4 L884.0,467.4 L884.6,469.3 L885.2,471.2 L885.8,473.1 L886.4,475.0 L887.0,476.9 L887.6,478.8 L888.2,480.7 L888.8,482.6 L889.4,484.5 L889.9,486.4 L890.5,488.3 L891.1,490.3 L891.7,492.2 L892.2,494.1 L892.8,496.0 L893.3,497.9 L893.9,499.8 L894.4,501.7 L895.0,503.7 L895.5,505.6 L896.1,507.5 L896.6,509.4 L897.1,511.3 L897.7,513.2 L898.2,515.2 L898.7,517.1 L899.2,519.0 L899.7,520.9 L900.2,522.9 L900.8,524.8 L901.3,526.7 L901.8,528.6 L902.3,530.5 L902.8,532.5 L903.3,534.4 L903.8,536.3 L904.3,538.3 L904.8,540.2 L905.3,542.1 L905.8,544.0 L906.2,546.0 L906.7,547.9 L907.2,549.8 L907.7,551.8 L908.2,553.7 L908.7,555.6 L909.1,557.6 L909.6,559.5 L910.1,561.4 L910.6,563.4 L911.0,565.3 L911.5,567.3 L912.0,569.2 L912.5,571.1 L912.9,573.1 L913.4,575.0 L913.9,577.0 L914.4,578.9 L914.8,580.8 L915.3,582.8 L915.8,584.7 L916.2,586.7 L916.7,588.6 L917.2,590.6 L917.7,592.5 L918.1,594.5 L918.6,596.4 L919.1,598.4 L919.5,600.3 L920.0,602.3 L920.5,604.2 L921.0,606.2 L921.5,608.1 L921.9,610.1 L922.4,612.0"/>
<path stroke="#10f5ec" d="M178.6,75.5 L180.4,76.6 L182.2,77.7 L183.9,78.8 L185.7,79.9 L187.5,81.0 L189.3,82.0 L191.0,83.1 L192.8,84.1 L194.6,85.2 L196.3,86.2 L198.1,87.3 L199.9,88.3 L201.6,89.3 L203.4,90.3 L205.2,91.3 L206.9,92.3 L208.7,93.3 L210.5,94.3 L212.2,95.3 L214.0,96.3 L215.8,97.3 L217.5,98.3 L219.3,99.2 L221.0,100.2 L222.8,101.2 L224.6,102.1 L226.3,103.1 L228.1,104.0 L229.8,105.0 L231.6,105.9 L233.4,106.8 L235.1,107.8 L236.9,108.7 L238.6,109.7 L240.4,110.6 L242.1,111.5 L243.9,112.4 L245.6,113.4 L247.4,114.3 L249.1,115.2 L250.9,116.1 L252.6,117.0 L254.4,117.9 L256.1,118.9 L257.9,119.8 L259.6,120.7 L261.4,121.6 L263.1,122.5 L264.9,123.4 L266.6,124.3 L268.4,125.2 L270.1,126.1 L271.8,127.1 L273.6,128.0 L275.3,128.9 L277.1,129.8 L278.8,130.7 L280.6,131.6 L282.3,132.5 L284.0,133.4 L285.8,134.4 L287.5,135.3 L289.3,136.2 L291.0,137.1 L292.7,138.0 L294.5,139.0 L296.2,139.9 L298.0,140.8 L299.7,141.8 L301.4,142.7 L303.2,143.6 L304.9,144.6 L306.6,145.5 L308.4,146.5 L310.1,147.4 L311.8,148.4 L313.6,149.3 L315.3,150.3 L317.0,151.3 L318.8,152.2 L320.5,153.2 L322.2,154.2 L324.0,155.1 L325.7,156.1 L327.4,157.1 L329.1,158.1 L330.9,159.1 L332.6,160.0 L334.3,161.0 L336.1,162.0 L337.8,163.0 L339.5,164.0 L341.2,165.0 L343.0,166.0 L344.7,167.0 L346.4,168.0 L348.2,169.0 L349.9,170.0 L351.6,171.0 L353.3,172.1 L355.1,173.1 L356.8,174.1 L358.5,175.1 L360.2,176.1 L362.0,177.1 L363.7,178.2 L365.4,179.2 L367.1,180.2 L368.8,181.2 L370.6,182.3 L372.3,183.3 L374.0,184.3 L375.7,185.3 L377.5,186.4 L379.2,187.4 L380.9,188.4 L382.6,189.5 L384.3,190.5 L386.1,191.5 L387.8,192.6 L389.5,193.6 L391.2,194.7 L392.9,195.7 L394.7,196.7 L396.4,197.8 L398.1,198.8 L399.8,199.8 L401.5,200.9 L403.3,201.9 L405.0,203.0 L406.7,204.0 L408.4,205.0 L410.1,206.1 L411.8,207.1 L413.6,208.1 L415.3,209.2 L417.0,210.2 L418.7,211.3 L420.4,212.3 L422.1,213.3 L423.9,214.4 L425.6,215.4 L427.3,216.5 L429.0,217.5 L430.7,218.5 L432.4,219.6 L434.2,220.6 L435.9,221.6 L437.6,222.7 L439.3,223.7 L441.0,224.7 L442.7,225.8 L444.5,226.8 L446.2,227.9 L447.9,228.9 L449.6,229.9 L451.3,231.0 L453.0,232.0 L454.7,233.0 L456.5,234.1 L458.2,235.1 L459.9,236.1 L461.6,237.2 L463.3,238.2 L465.0,239.2 L466.8,240.3 L468.5,241.3 L470.2,242.3 L471.9,243.4 L473.6,244.4 L475.3,245.4 L477.0,246.4 L478.8,247.5 L480.5,248.5 L482.2,249.5 L483.9,250.6 L485.6,251.6 L487.3,252.6 L489.0,253.6 L490.8,254.7 L492.5,255.7 L494.2,256.7 L495.9,257.7 L497.6,258.8 L499.3,259.8 L501.0,260.8 L502.8,261.8 L504.5,262.8 L506.2,263.9 L507.9,264.9 L509.6,265.9 L511.3,266.9 L513.1,267.9 L514.8,268.9 L516.5,270.0 L518.2,271.0 L519.9,272.0 L521.6,273.0 L523.3,274.0 L525.1,275.0 L526.8,276.0 L528.5,277.0 L530.2,278.0 L531.9,279.0 L533.6,280.0 L535.4,281.1 L537.1,282.1 L538.8,283.1 L540.5,284.1 L542.2,285.1 L543.9,286.1 L545.7,287.1 L547.4,288.1 L549.1,289.1 L550.8,290.0 L552.5,291.0 L554.2,292.0 L556.0,293.0 L557.7,294.0 L559.4,295.0 L561.1,296.0 L562.8,297.0 L564.6,298.0 L566.3,299.0 L568.0,299.9 L569.7,300.9 L571.4,301.9 L573.2,302.9 L574.9,303.9 L576.6,304.8 L578.3,305.8 L580.0,306.8 L581.8,307.8 L583.5,308.7 L585.2,309.7 L586.9,310.7 L588.6,311.7 L590.4,312.6 L592.1,313.6 L593.8,314.5 L595.5,315.5 L597.3,316.5 L599.0,317.4 L600.7,318.4 L602.4,319.4 L604.2,320.3 L605.9,321.3 L607.6,322.2 L609.3,323.2 L611.1,324.1 L612.8,325.1 L614.5,326.1 L616.2,327.0 L618.0,328.0 L619.7,329.0 L621.4,329.9 L623.1,330.9 L624.9,331.9 L626.6,332.9 L628.3,333.8 L630.0,334.8 L631.8,335.8 L633.5,336.8 L635.2,337.8 L636.9,338.8 L638.7,339.8 L640.4,340.8 L642.1,341.8 L643.9,342.8 L645.6,343.9 L647.3,344.9 L649.0,345.9 L650.8,347.0 L652.5,348.0 L654.2,349.1 L655.9,350.2 L657.7,351.2 L659.4,352.3 L661.1,353.4 L662.8,354.4 L664.6,355.5 L666.3,356.6 L668.0,357.7 L669.8,358.7 L671.5,359.8 L673.2,360.9 L674.9,362.0 L676.7,363.1 L678.4,364.2 L680.1,365.3 L681.8,366.3 L683.6,367.4 L685.3,368.5 L687.0,369.6 L688.7,370.7 L690.5,371.7 L692.2,372.8 L693.9,373.9 L695.6,374.9 L697.3,376.0 L699.1,377.0 L700.8,378.1 L702.5,379.1 L704.2,380.2 L706.0,381.2 L707.7,382.2 L709.4,383.2 L711.1,384.2 L712.9,385.2 L714.6,386.2 L716.3,387.2 L718.1,388.2 L719.8,389.1 L721.5,390.0 L723.3,391.0 L725.0,391.9 L726.8,392.8 L728.6,393.6 L730.3,394.5 L732.1,395.3 L733.9,396.2 L735.7,397.0 L737.5,397.8 L739.3,398.5 L741.1,399.3 L742.9,400.0 L744.7,400.7 L746.6,401.3 L748.4,402.0 L750.3,402.6 L752.1,403.2 L754.0,403.8 L755.9,404.3 L757.8,404.9 L759.7,405.4 L761.6,405.9 L763.5,406.3 L765.4,406.8 L767.4,407.3 L769.3,407.7 L771.2,408.2 L773.2,408.6 L775.1,409.1 L777.0,409.5 L779.0,410.0 L780.9,410.5 L782.8,411.0 L784.7,411.5 L786.7,412.0 L788.6,412.5 L790.5,413.1 L792.4,413.7 L794.2,414.3 L796.1,415.0 L798.0,415.7 L799.8,416.4 L801.7,417.1 L803.5,417.9 L805.3,418.7 L807.1,419.6 L808.9,420.4 L810.7,421.3 L812.5,422.2 L814.3,423.2 L816.0,424.2 L817.7,425.2 L819.4,426.2 L821.1,427.3 L822.8,428.4 L824.5,429.5 L826.1,430.6 L827.8,431.8 L829.4,432.9 L831.0,434.1 L832.5,435.4 L834.1,436.6 L835.7,437.9 L837.2,439.2 L838.7,440.5 L840.2,441.8 L841.6,443.2 L843.1,444.5 L844.5,445.9 L845.9,447.3 L847.3,448.8 L848.6,450.2 L850.0,451.7 L851.3,453.2 L852.6,454.6 L853.9,456.2 L855.1,457.7 L856.4,459.2 L857.6,460.8 L858.8,462.4 L860.0,463.9 L861.2,465.5 L862.4,467.1 L863.5,468.8 L864.7,470.4 L865.8,472.0 L866.9,473.7 L868.0,475.4 L869.0,477.0 L870.1,478.7 L871.1,480.4 L872.2,482.1 L873.2,483.8 L874.2,485.6 L875.2,487.3 L876.2,489.0 L877.1,490.8 L878.1,492.5 L879.0,494.3 L880.0,496.0 L880.9,497.8 L881.8,499.6 L882.7,501.3 L883.6,503.1 L884.5,504.9 L885.3,506.7 L886.2,508.5 L887.0,510.3 L887.9,512.2 L888.7,514.0 L889.5,515.8 L890.3,517.6 L891.1,519.5 L891.9,521.3 L892.7,523.2 L893.5,525.0 L894.2,526.9 L895.0,528.7 L895.7,530.6 L896.5,532.4 L897.2,534.3 L897.9,536.2 L898.6,538.0 L899.4,539.9 L900.1,541.8 L900.7,543.7 L901.4,545.6 L902.1,547.5 L902.8,549.3 L903.5,551.2 L904.1,553.1 L904.8,555.0 L905.4,556.9 L906.1,558.8 L906.7,560.7 L907.4,562.6 L908.0,564.5 L908.6,566.4 L909.3,568.3 L909.9,570.2 L910.5,572.1 L911.1,574.0 L911.7,575.9 L912.3,577.8 L912.9,579.7 L913.5,581.6 L914.1,583.5 L914.7,585.4 L915.3,587.3 L915.9,589.2 L916.5,591.1 L917.1,593.0 L917.6,594.9 L918.2,596.7 L918.8,598.6 L919.4,600.5 L920.0,602.4 L920.5,604.3 L921.1,606.1 L921.7,608.0 L922.3,609.9 L922.9,611.8"/>
</g>
<text transform="translate(180.00,647.50) scale(0.9175,1)" style="font-size:41.20px" text-anchor="middle">2.8</text>
<text transform="translate(342.60,647.50) scale(0.9175,1)" style="font-size:41.20px" text-anchor="middle">3.0</text>
<text transform="translate(505.20,647.50) scale(0.9175,1)" style="font-size:41.20px" text-anchor="middle">3.2</text>
<text transform="translate(667.80,647.50) scale(0.9175,1)" style="font-size:41.20px" text-anchor="middle">3.4</text>
<text transform="translate(830.40,647.50) scale(0.9175,1)" style="font-size:41.20px" text-anchor="middle">3.6</text>
<text transform="translate(993.00,647.50) scale(0.9175,1)" style="font-size:41.20px" text-anchor="middle">3.8</text>
<text transform="translate(92.20,50.60) scale(0.9320,1)" style="font-size:41.20px">0.30</text>
<text transform="translate(92.20,211.93) scale(0.9320,1)" style="font-size:41.20px">0.25</text>
<text transform="translate(92.20,373.27) scale(0.9320,1)" style="font-size:41.20px">0.20</text>
<text transform="translate(92.20,534.60) scale(0.9320,1)" style="font-size:41.20px">0.15</text>
<text transform="translate(452.70,721.00) scale(0.9573,1)" style="font-size:50.40px">Energy (eV)</text>
<text transform="translate(40.50,574.60) rotate(-90) scale(0.9712,1)" style="font-size:49.70px">Absorbance (arb.units)</text>
<line x1="802" x2="864.3" y1="47.2" y2="47.2" stroke="#000000" stroke-width="4.0"/>
<text transform="translate(869.50,55.80) scale(0.9541,1)" style="font-size:27.25px">Ag # 1a</text>
<line x1="802" x2="864.3" y1="80.7" y2="80.7" stroke="#e50a0a" stroke-width="4.0"/>
<text transform="translate(869.50,89.30) scale(0.9541,1)" style="font-size:27.25px">Ag # 1b</text>
<line x1="802" x2="864.3" y1="114.1" y2="114.1" stroke="#0af010" stroke-width="4.0"/>
<text transform="translate(869.50,122.80) scale(0.9541,1)" style="font-size:27.25px">Ag # 2</text>
<line x1="802" x2="864.3" y1="147.6" y2="147.6" stroke="#0505dc" stroke-width="4.0"/>
<text transform="translate(869.50,156.30) scale(0.9541,1)" style="font-size:27.25px">Ag # 3</text>
<line x1="802" x2="864.3" y1="181.0" y2="181.0" stroke="#10f5ec" stroke-width="4.0"/>
<text transform="translate(869.50,189.80) scale(0.9541,1)" style="font-size:27.25px">Ag # 4</text>
</svg>
</body></html>
